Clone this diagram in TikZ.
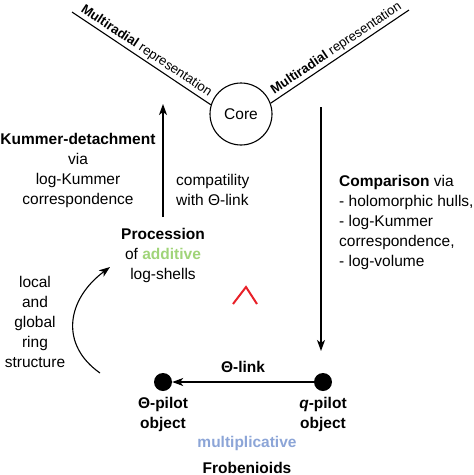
\documentclass[tikz,border=0pt]{standalone}
\usepackage{fontspec}
\setmainfont{Liberation Sans}
\usetikzlibrary{arrows.meta}
\definecolor{addgreen}{RGB}{160,212,120}
\definecolor{multblue}{RGB}{140,165,215}
\definecolor{caretred}{RGB}{232,32,40}
\begin{document}
\begin{tikzpicture}[x=1pt,y=-1pt,
  every node/.style={font=\fontsize{15.5}{20}\selectfont, inner sep=0pt},
  conn/.style={line width=1.1pt},
  arr/.style={line width=1.1pt, -{Stealth[length=11pt,width=8pt,inset=3pt]}},
  radfont/.style={font=\fontsize{13.2}{16}\selectfont},
  dotnode/.style={circle, fill=black, minimum size=18pt},
  txt/.style={align=center}]
\useasboundingbox (0,0) rectangle (474,475);
\clip (0,0) rectangle (474,475);

% core and radial lines
\node[draw, circle, minimum size=62pt, line width=1.1pt] (core) at (241,114) {Core};
\coordinate (lend) at (72,12);
\coordinate (rend) at (409,10);
\draw[conn] (lend) -- node[sloped, above=2pt, pos=0.5, radfont] {\textbf{Multiradial} representation} (core.163);
\draw[conn] (core.20) -- node[sloped, above=2pt, pos=0.51, radfont] {\textbf{Multiradial} representation} (rend);

% vertical arrows
\coordinate (upS) at (163,217);
\coordinate (upT) at (163,104);
\draw[arr] (upS) -- (upT);
\coordinate (dnS) at (321,107);
\coordinate (dnT) at (321,351);
\draw[arr] (dnS) -- (dnT);

% texts
\node[txt] (kum) at (78,170) {\textbf{Kummer-detachment}\\via\\log-Kummer\\correspondence};
\node[align=left, anchor=west] (comp) at (176,190) {compatility\\with Θ-link};
\node[align=left, anchor=west] (cmp) at (339,222) {\textbf{Comparison} via\\- holomorphic hulls,\\- log-Kummer\\correspondence,\\- log-volume};
\node[txt] (proc) at (163,255) {\textbf{Procession}\\of \textcolor{addgreen}{\textbf{additive}}\\log-shells};
\node[txt] (ring) at (35,322) {local\\and\\global\\ring\\structure};

% curved arrow
\coordinate (cS) at (100,373);
\coordinate (cT) at (110,267);
\draw[arr] (cS) .. controls (60,345) and (66,300) .. (cT);

% red caret
\draw[caretred, line width=2pt] (233,304) -- (246,287) -- (257,304);

% pilot objects
\node[dotnode] (tdot) at (163,382) {};
\node[dotnode] (qdot) at (323,382) {};
\draw[arr] (qdot) -- (tdot);
\node (tlink) at (243,367) {\textbf{Θ-link}};
\node[txt] (tpilot) at (163,414) {\textbf{Θ-pilot}\\\textbf{object}};
\node[txt] (qpilot) at (323,414) {\textbf{\textit{q}-pilot}\\\textbf{object}};
\node (mult) at (247,443) {\textcolor{multblue}{\textbf{multiplicative}}};
\node (frob) at (247,468) {\textbf{Frobenioids}};
\end{tikzpicture}
\end{document}
